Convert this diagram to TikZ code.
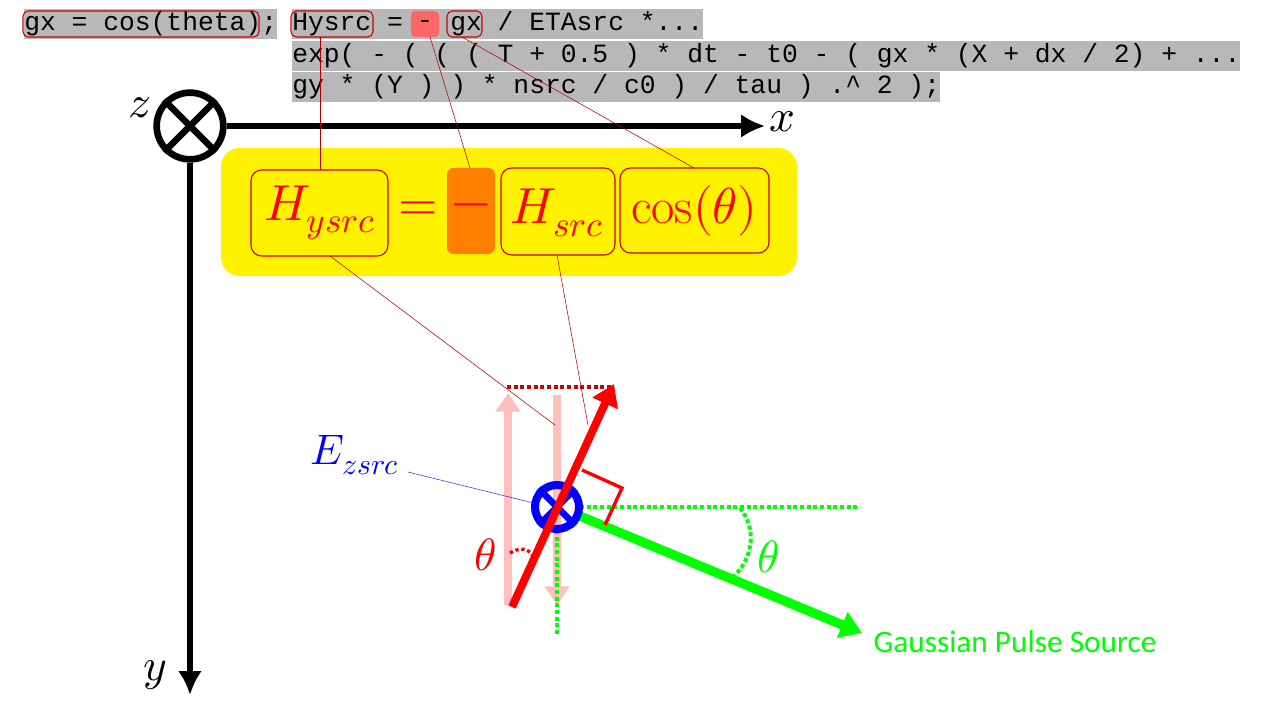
\documentclass[tikz,border=0pt]{standalone}
\usepackage{unicode-math}
\setmathfont{Latin Modern Math}
\setmonofont{Liberation Mono}
\setsansfont{Carlito}
\usetikzlibrary{arrows.meta}
\begin{document}
\begin{tikzpicture}[x=0.75pt,y=-0.75pt,
  code/.style={fill=black!28,inner xsep=0pt,inner ysep=2pt,anchor=west,font=\ttfamily\fontsize{19.75}{21}\selectfont},
  rbox/.style={draw=red!80!black,rounded corners=4pt,thick,inner sep=0pt},
  mbox/.style={draw=red!80!black,rounded corners=8pt,thick},
  lead/.style={red!70!black,line width=0.4pt},
  ax/.style={line width=5pt,-{Latex[length=18pt,width=18pt]}},
  mt/.style={font=\fontsize{34}{36}\selectfont},
  big/.style={text=red,font=\fontsize{38}{42}\selectfont}]
\useasboundingbox (0,0) rectangle (1280,720);
\fill[white] (0,0) rectangle (1280,720);
% code
\node[code] (c1) at (24,24) {gx = cos(theta);};
\node[code] (c2) at (292,24) {Hysrc =\ \ \ gx / ETAsrc *...};
\node[code] (c3) at (292,56) {exp( - ( ( ( T + 0.5 ) * dt - t0 - ( gx * (X + dx / 2) + ...};
\node[code] (c4) at (292,87) {gy * (Y ) ) * nsrc / c0 ) / tau ) .\^{} 2 );};
\draw[rbox] (23,11) rectangle (259,37);
\draw[rbox] (291,11) rectangle (373,37);
\fill[red!60,rounded corners=3pt] (411,11) rectangle (439,37);
\node[code,fill=none,anchor=center] (cm) at (425,24) {-};
\draw[rbox] (447,11) rectangle (482,37);
\coordinate (k1) at (320,37); \coordinate (k2) at (430,37); \coordinate (k3) at (462,37);
% axes
\node[circle,draw,line width=5pt,minimum size=50pt] (z) at (190,126) {};
\draw[line width=5pt] (z.45) -- (z.225) (z.135) -- (z.315);
\draw[ax] (z.east) -- (765,126);
\draw[ax] (z.south) -- (190,695);
\node[mt] (zl) at (140,108) {$z$};
\node[mt] (xl) at (782,122) {$x$};
\node[mt] (yl) at (155,675) {$y$};
% yellow panel
\fill[yellow,rounded corners=14pt] (221,148) rectangle (797,276);
\draw[mbox] (251,170) rectangle (388,256);
\node[big] (hy) at (320,213) {$H_{ysrc}$};
\node[big] (eq) at (418,211) {$=$};
\fill[orange,rounded corners=5pt] (447,168) rectangle (495,254);
\node[big] (mn) at (471,211) {$-$};
\draw[mbox] (501,168) rectangle (615,255);
\node[big] (hs) at (557,213) {$H_{src}$};
\draw[mbox] (620,168) rectangle (769,253);
\node[big] (cs) at (694,211) {$\cos(\theta)$};
\draw[lead] (k1) -- (320,170);
\draw[lead] (k2) -- (470,168);
\draw[lead] (k3) -- (694,168);
% vectors
\coordinate (o) at (557,507);
\draw[pink,line width=6pt,-{Triangle[length=14pt,width=18pt]}] (508,605) -- (508,393);
\draw[pink,line width=6pt,-{Triangle[length=14pt,width=18pt]}] (557,395) -- (557,605);
\draw[red!80!black,line width=3pt,dotted] (507,387) -- (612,387);
\draw[green,line width=3pt,dotted] (580,507) -- (860,507);
\draw[green,line width=3pt,dotted] (557,530) -- (557,635);
\draw[green,line width=7pt,-{Triangle[length=16pt,width=20pt]}] (575,514) -- (862,633);
\draw[red,line width=2.5pt] (582,470) -- (622,488) -- (605,525);
\node[circle,draw=blue,line width=6pt,minimum size=33pt] (ez) at (o) {};
\draw[blue,line width=5pt] (ez.45) -- (ez.225) (ez.135) -- (ez.315);
\draw[red,line width=6pt,-{Triangle[length=16pt,width=20pt]}] (512,607) -- (614,384);
\draw[red,line width=2.5pt,dotted] (510,553) .. controls (520,547) and (528,548) .. (533,556);
\draw[green,line width=3pt,dotted] (740,508) .. controls (758,530) and (752,560) .. (733,577);
\draw[lead] (330,256) -- (555,425);
\draw[lead] (557,255) -- (588,425);
\node[text=blue,font=\fontsize{32}{34}\selectfont] (el) at (355,455) {$E_{zsrc}$};
\draw[blue!60!gray,line width=0.4pt] (408,472) -- (ez.170);
\node[text=red,mt] (t1) at (485,555) {$\theta$};
\node[text=green,mt] (t2) at (768,557) {$\theta$};
\node[text=green,font=\sffamily\fontsize{23.5}{26}\selectfont] (gp) at (1015,642) {Gaussian Pulse Source};
\end{tikzpicture}
\end{document}
